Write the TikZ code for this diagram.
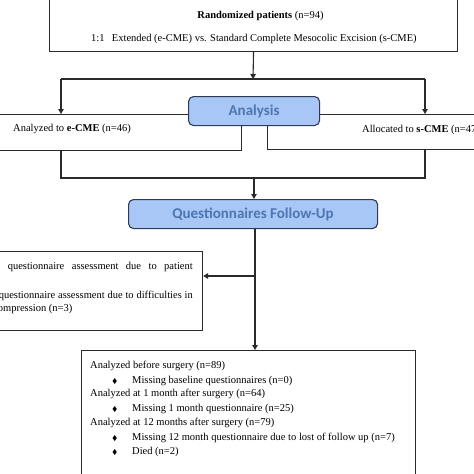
\documentclass[tikz,border=0pt]{standalone}
\usepackage{fontspec}
\setmainfont{Liberation Serif}
\newfontfamily\calib{Carlito}
\usepackage{amssymb}
\usetikzlibrary{arrows.meta}
\definecolor{boxfill}{HTML}{A8C6F6}
\definecolor{boxdraw}{HTML}{2E3B55}
\definecolor{boxtext}{HTML}{4D77B0}
\definecolor{linec}{HTML}{2A2A2A}
\begin{document}
\begin{tikzpicture}[x=1pt,y=-1pt,
  frame/.style={draw=linec,line width=1.1pt,fill=white,inner sep=0pt,anchor=north west},
  hdr/.style={draw=boxdraw,line width=1.1pt,fill=boxfill,rounded corners=5pt,inner sep=0pt,anchor=north west,
    font=\calib\bfseries\fontsize{15}{18}\selectfont,text=boxtext},
  txt/.style={font=\fontsize{10.5}{12}\selectfont,inner sep=0pt},
  conn/.style={draw=linec,line width=1.1pt},
  arr/.style={conn,-{Triangle[length=5pt,width=5.5pt]}},
  bul/.style={txt,anchor=west}]
\useasboundingbox (0,0) rectangle (474,474);
\clip (0,0) rectangle (474,474);
% boxes
\node[frame,minimum width=408pt,minimum height=81pt] (top) at (49,-30) {};
\node[frame,minimum width=281pt,minimum height=36pt] (ecme) at (-40,114) {};
\node[frame,minimum width=260pt,minimum height=35pt] (scme) at (267,114) {};
\node[hdr,minimum width=131pt,minimum height=29pt] (an) at (188,96) {Analysis};
\node[hdr,minimum width=249pt,minimum height=29pt] (q) at (128,199) {Questionnaires Follow-Up};
\node[frame,minimum width=242pt,minimum height=79pt] (excl) at (-40,251) {};
\node[frame,minimum width=334pt,minimum height=150pt] (final) at (81,350) {};
% texts
\node[txt] (t1) at (260.5,16) {\textbf{Randomized patients} (n=94)};
\node[txt,anchor=west] (t2) at (91,39) {1:1\hspace{0.7em}Extended (e-CME) vs. Standard Complete Mesocolic Excision (s-CME)};
\node[txt,anchor=west] (t3) at (13,129) {Analyzed to \textbf{e-CME} (n=46)};
\node[txt,anchor=west] (t4) at (362,130) {Allocated to \textbf{s-CME} (n=47)};
\node[txt,anchor=east] (e1) at (193,267) {\makebox[185pt][s]{questionnaire assessment due to patient}};
\node[txt,anchor=east] (e2) at (193,296) {\makebox[194pt][s]{questionnaire assessment due to difficulties in}};
\node[txt,anchor=west] (e3) at (-7,309) {compression (n=3)};
\node[bul] (l1) at (90,366) {Analyzed before surgery (n=89)};
\node[bul] (l2) at (90,381) {\makebox[42pt][l]{\hspace{22pt}\raisebox{0.5pt}{\scriptsize$\blacklozenge$}}Missing baseline questionnaires (n=0)};
\node[bul] (l3) at (90,394) {Analyzed at 1 month after surgery (n=64)};
\node[bul] (l4) at (90,409) {\makebox[42pt][l]{\hspace{22pt}\raisebox{0.5pt}{\scriptsize$\blacklozenge$}}Missing 1 month questionnaire (n=25)};
\node[bul] (l5) at (90,423) {Analyzed at 12 months after surgery (n=79)};
\node[bul] (l6) at (90,438) {\makebox[42pt][l]{\hspace{22pt}\raisebox{0.5pt}{\scriptsize$\blacklozenge$}}Missing 12 month questionnaire due to lost of follow up (n=7)};
\node[bul] (l7) at (90,452) {\makebox[42pt][l]{\hspace{22pt}\raisebox{0.5pt}{\scriptsize$\blacklozenge$}}Died (n=2)};
% connectors
\coordinate (s1) at (253,79);
\coordinate (sL) at (61,79);
\coordinate (sR) at (425,79);
\draw[arr] (top.south) -- (s1);
\draw[conn] (sL) -- (sR);
\draw[arr] (sL) -- (sL |- ecme.north);
\draw[arr] (sR) -- (sR |- scme.north);
\coordinate (jL) at (61,178);
\coordinate (jR) at (425,178);
\coordinate (jM) at (254,178);
\draw[conn] (jL |- ecme.south) -- (jL) -- (jR) -- (jR |- scme.south);
\draw[arr] (jM) -- (jM |- q.north);
\coordinate (b1) at (255,276);
\draw[arr] (b1 |- q.south) -- (b1 |- final.north);
\draw[arr] (b1) -- (b1 -| excl.east);
\end{tikzpicture}
\end{document}
